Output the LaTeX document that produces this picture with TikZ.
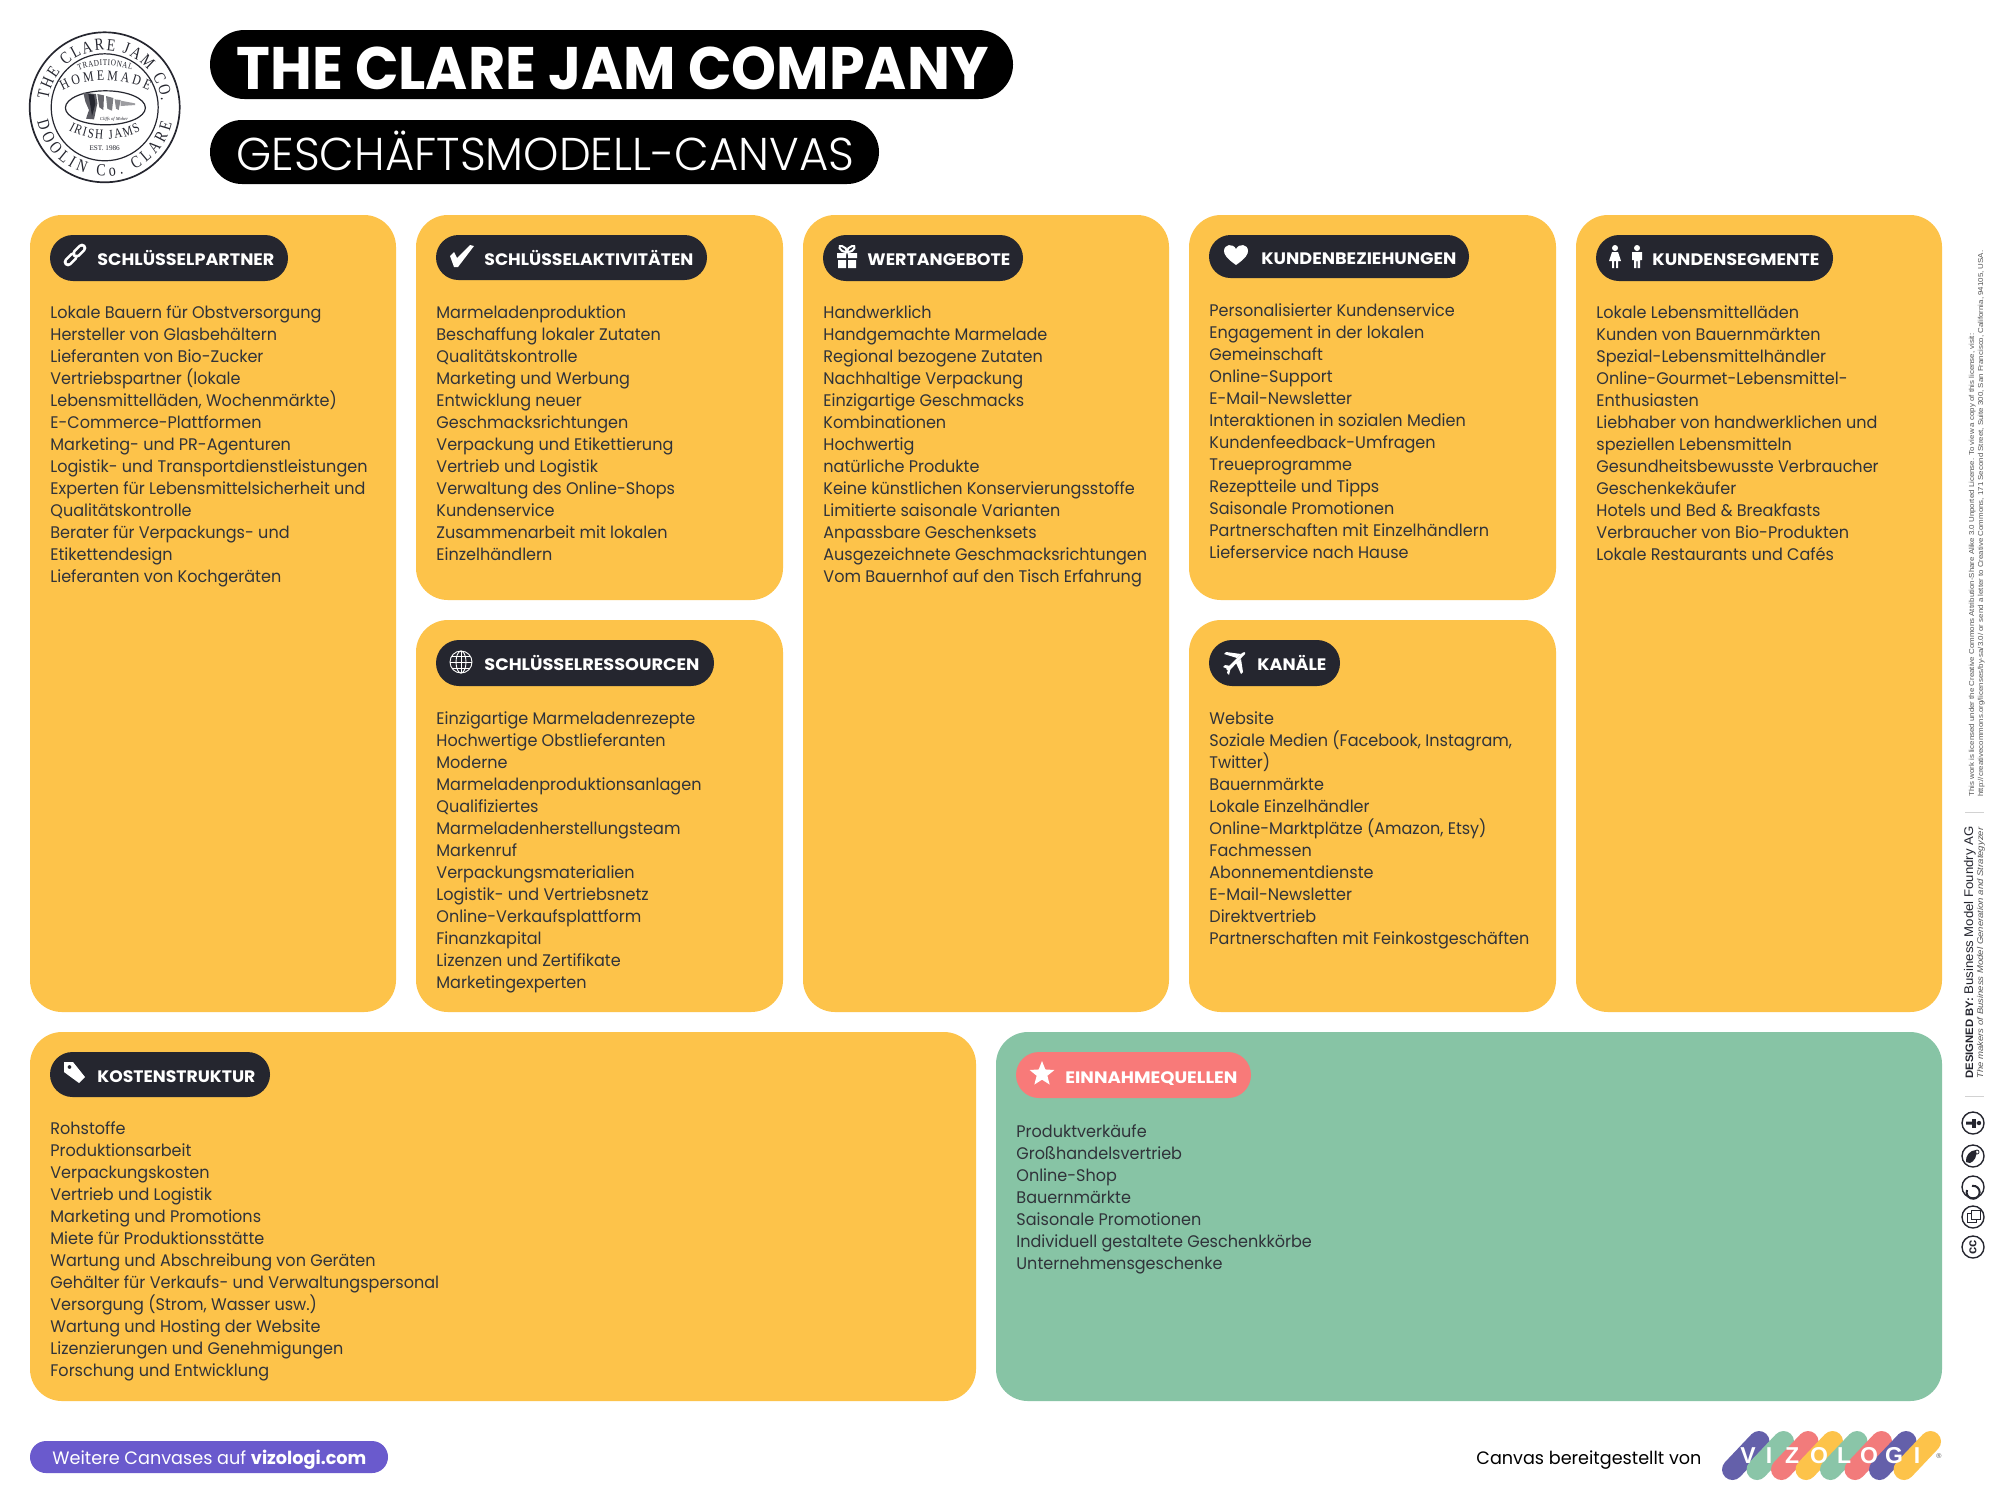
\documentclass[tikz,border=0pt]{standalone}
\usepackage{fontspec}
\usepackage{graphicx}
\usetikzlibrary{decorations.text,shapes.geometric}
\setmainfont{Poppins}
\newfontfamily\bodyf[FakeStretch=0.955]{Poppins}
\newfontfamily\lightf{Poppins Light}
\newfontfamily\sidef{Liberation Sans}
\newfontfamily\serf{Liberation Serif}
\newfontfamily\logof[FakeStretch=0.82]{Liberation Serif}
\definecolor{cardy}{HTML}{FDC34A}
\definecolor{cardg}{HTML}{87C4A5}
\definecolor{pilld}{HTML}{25262F}
\definecolor{pillc}{HTML}{F87A79}
\definecolor{txt}{HTML}{30333A}
\definecolor{purp}{HTML}{6A5ACD}
\definecolor{vpurp}{HTML}{6460AA}
\definecolor{vgreen}{HTML}{8AC5A8}
\definecolor{vcoral}{HTML}{F27B7B}
\definecolor{vyel}{HTML}{FDC34A}
\definecolor{sideg}{HTML}{555555}
\newcommand\fitto[2]{\resizebox{#1\dimexpr .5pt\relax}{\height}{#2}}
\tikzset{
  body/.style={anchor=north west,inner sep=0pt,align=left,text=txt,font=\bodyf\fontsize{8.4}{11}\selectfont},
  lab/.style={anchor=base west,inner sep=0pt,text=white,font=\bfseries\fontsize{8.3}{10}\selectfont},
  sidetxt/.style={anchor=base west,inner sep=0pt,rotate=90,text=sideg},
  card/.style={rounded corners=16pt},
  ccring/.style={draw=pilld,line width=.7pt,fill=white},
  white thin/.style={draw=white,line width=.45pt}
}
\newcommand\fr{\rule{0pt}{8pt}}
\newcommand\pillbox[5]{\pgfmathsetmacro\prad{(#4-#2)*0.25}\fill[#5,rounded corners=\prad pt] (#1,#2) rectangle (#3,#4);}
\begin{document}
\begin{tikzpicture}[x=.5pt,y=-.5pt]
\useasboundingbox (0,0) rectangle (2000,1511);
\fill[white] (0,0) rectangle (2000,1511);
% logo
\begin{scope}[shift={(104.7,107.3)},x=.5pt,y=.5pt]
\draw[pilld,line width=.85pt] (0,0) circle[radius=75];
\draw[pilld,line width=.6pt] (0,0) circle[radius=53.5];
\draw[pilld,line width=.6pt] (0.7,-0.5) ellipse[x radius=40,y radius=17];
\path[decorate,decoration={text along path,text align={fit to path},text={|\logof\fontsize{8.5}{9}\selectfont\color{pilld}|THE CLARE JAM CO.}}] (172:57) arc[start angle=172,end angle=6,radius=57];
\path[decorate,decoration={text along path,text align={fit to path},text={|\logof\fontsize{8.5}{9}\selectfont\color{pilld}|DOOLIN Co. CLARE}}] (192:69) arc[start angle=192,end angle=347,radius=69];
\path[decorate,decoration={text along path,text align={fit to path},text={|\logof\fontsize{4.4}{5}\selectfont\color{pilld}|TRADITIONAL}}] (-26,37) .. controls (-10,43) and (10,43) .. (27,37);
\path[decorate,decoration={text along path,text align={fit to path},text={|\logof\fontsize{7.2}{8}\selectfont\color{pilld}|HOMEMADE}}] (-42,17) .. controls (-20,30) and (20,30) .. (44,17);
\path[decorate,decoration={text along path,text align={fit to path},text={|\logof\fontsize{6.8}{7}\selectfont\color{pilld}|IRISH JAMS}}] (-36,-23) .. controls (-15,-35) and (15,-35) .. (36,-23);
\node (est) [inner sep=0pt,text=pilld,font=\serf\fontsize{3.6}{4}\selectfont] at (0,-41) {EST. 1986};
\end{scope}
\begin{scope}[shift={(20,20)},x=.1667pt,y=-.1667pt]
\fill[pilld!75] (190,218) -- (228,222) -- (232,250) -- (222,298) -- (198,296) -- (207,270) -- (196,245) -- cycle;
\fill[pilld] (205,222) -- (222,224) -- (226,252) -- (216,288) -- (212,262) -- cycle;
\fill[pilld!70] (232,222) -- (252,226) -- (250,270) -- (238,262) -- cycle;
\fill[pilld!60] (258,228) -- (280,234) -- (276,272) -- (262,266) -- cycle;
\fill[pilld!55] (284,238) -- (302,240) -- (296,270) -- (288,266) -- cycle;
\fill[pilld!45] (302,242) -- (345,250) -- (345,255) -- (302,258) -- cycle;
\end{scope}
\node (moher) [inner sep=0pt,text=pilld,font=\serf\itshape\fontsize{2.3}{3}\selectfont] at (114,119) {Cliffs of Moher};
% header pills
\pillbox{210}{30}{1013}{99}{black}
\pillbox{210}{120}{879}{184}{black}
\node (title) [anchor=base west,inner sep=0pt,text=white,font=\bfseries\fontsize{30}{32}\selectfont] at (236,89) {\fitto{752}{THE CLARE JAM COMPANY}};
\node (subtitle) [anchor=base west,inner sep=0pt,text=white,font=\lightf\fontsize{23}{26}\selectfont] at (236,170) {\fitto{618}{GESCHÄFTSMODELL-CANVAS}};
% cards
\fill[cardy,card] (30,215) rectangle (396,1012);
\fill[cardy,card] (416,215) rectangle (783,600);
\fill[cardy,card] (416,620) rectangle (783,1012);
\fill[cardy,card] (803,215) rectangle (1169,1012);
\fill[cardy,card] (1189,215) rectangle (1556,600);
\fill[cardy,card] (1189,620) rectangle (1556,1012);
\fill[cardy,card] (1576,215) rectangle (1942,1012);
\fill[cardy,card] (30,1032) rectangle (976,1401);
\fill[cardg,card] (996,1032) rectangle (1942,1401);
% pills
\pillbox{50}{235}{288}{281}{pilld}
\pillbox{436}{235}{707}{280}{pilld}
\pillbox{823}{235}{1023}{281}{pilld}
\pillbox{1209}{235}{1469}{278}{pilld}
\pillbox{1596}{235}{1833}{281}{pilld}
\pillbox{436}{640}{714}{686}{pilld}
\pillbox{1209}{640}{1340}{686}{pilld}
\pillbox{50}{1052}{270}{1097}{pilld}
\pillbox{1016}{1052}{1251}{1098}{pillc}
\node (lsp) [lab] at (97,265) {\fitto{177}{SCHLÜSSELPARTNER}};
\node (lsa) [lab] at (484,265) {\fitto{209}{SCHLÜSSELAKTIVITÄTEN}};
\node (lwa) [lab] at (867,265) {\fitto{143}{WERTANGEBOTE}};
\node (lkb) [lab] at (1261,264) {\fitto{195}{KUNDENBEZIEHUNGEN}};
\node (lks) [lab] at (1652,265) {\fitto{167}{KUNDENSEGMENTE}};
\node (lsr) [lab] at (484,670) {\fitto{215}{SCHLÜSSELRESSOURCEN}};
\node (lka) [lab] at (1257,670) {\fitto{69}{KANÄLE}};
\node (lko) [lab] at (97,1082) {\fitto{158}{KOSTENSTRUKTUR}};
\node (lei) [lab] at (1065,1083) {\fitto{172}{EINNAHMEQUELLEN}};
% icons
\draw[white,line width=4.4pt,line cap=round] (68,262) -- (73.5,256.5);
\draw[pilld,line width=1.6pt,line cap=round] (68,262) -- (73.5,256.5);
\draw[white,line width=4.4pt,line cap=round] (76.5,253.5) -- (82,248);
\draw[pilld,line width=1.6pt,line cap=round] (76.5,253.5) -- (82,248);
\fill[white] (450,256) -- (454,252) -- (457,258) -- (470,245) -- (474,246) -- (458,267) -- (454,267) -- cycle;
\fill[white] (837,253) rectangle (846,258) (848,253) rectangle (857,258) (838,260) rectangle (846,268) (848,260) rectangle (856,268);
\draw[white,line width=1pt] (847,252) .. controls (838,252) and (838,244) .. (842,246) .. controls (845,247) and (847,249) .. (847,252) .. controls (847,249) and (849,247) .. (852,246) .. controls (856,244) and (856,252) .. (847,252);
\fill[white] (1236,265) .. controls (1226,258) and (1224,254) .. (1224,251) .. controls (1224,244) and (1233,243) .. (1236,249) .. controls (1239,243) and (1248,244) .. (1248,251) .. controls (1248,254) and (1246,258) .. (1236,265) -- cycle;
\fill[white] (1615,248) circle[radius=3];
\fill[white] (1612,252) -- (1618,252) -- (1621,261) -- (1618,261) -- (1618,268) -- (1616,268) -- (1616,261) -- (1614,261) -- (1614,268) -- (1612,268) -- (1612,261) -- (1609,261) -- cycle;
\fill[white] (1637,248) circle[radius=3];
\fill[white] (1632,252) -- (1642,252) -- (1642,260) -- (1640,260) -- (1640,268) -- (1637.6,268) -- (1637.6,261) -- (1636.4,261) -- (1636.4,268) -- (1634,268) -- (1634,260) -- (1632,260) -- cycle;
\draw[white thin] (461,662) circle[radius=11];
\draw[white thin] (461,662) ellipse[x radius=5,y radius=11];
\draw[white thin] (461,651) -- (461,673) (450,662) -- (472,662) (452,656) -- (470,656) (452,668) -- (470,668);
\fill[white] (1226,669) -- (1241,654) .. controls (1243,652) and (1246,651) .. (1245,654) -- (1229,671) -- cycle;
\fill[white] (1237,658) -- (1224,654) -- (1226,652) -- (1241,654) -- cycle;
\fill[white] (1236,663) -- (1241,674) -- (1243,672) -- (1241,659) -- cycle;
\fill[white] (1228,669) -- (1223,667) -- (1225,665) -- (1231,666) -- (1230,671) -- (1229,675) -- (1227,673) -- cycle;
\fill[white,even odd rule] (64,1062) -- (73,1062) -- (85,1077) -- (79,1083) -- (64,1072) -- cycle (69.5,1067) circle[radius=2];
\node (staricon) [star,star points=5,star point ratio=2.3,fill=white,inner sep=0pt,minimum size=26pt*.5] at (1042,1074) {};
% body texts
\node (b1) [body] at (50,302) {\fr Lokale Bauern für Obstversorgung\\Hersteller von Glasbehältern\\Lieferanten von Bio-Zucker\\Vertriebspartner (lokale\\Lebensmittelläden, Wochenmärkte)\\E-Commerce-Plattformen\\Marketing- und PR-Agenturen\\Logistik- und Transportdienstleistungen\\Experten für Lebensmittelsicherheit und\\Qualitätskontrolle\\Berater für Verpackungs- und\\Etikettendesign\\Lieferanten von Kochgeräten};
\node (b2) [body] at (436,302) {\fr Marmeladenproduktion\\Beschaffung lokaler Zutaten\\Qualitätskontrolle\\Marketing und Werbung\\Entwicklung neuer\\Geschmacksrichtungen\\Verpackung und Etikettierung\\Vertrieb und Logistik\\Verwaltung des Online-Shops\\Kundenservice\\Zusammenarbeit mit lokalen\\Einzelhändlern};
\node (b3) [body] at (436,708) {\fr Einzigartige Marmeladenrezepte\\Hochwertige Obstlieferanten\\Moderne\\Marmeladenproduktionsanlagen\\Qualifiziertes\\Marmeladenherstellungsteam\\Markenruf\\Verpackungsmaterialien\\Logistik- und Vertriebsnetz\\Online-Verkaufsplattform\\Finanzkapital\\Lizenzen und Zertifikate\\Marketingexperten};
\node (b4) [body] at (823,302) {\fr Handwerklich\\Handgemachte Marmelade\\Regional bezogene Zutaten\\Nachhaltige Verpackung\\Einzigartige Geschmacks\\Kombinationen\\Hochwertig\\natürliche Produkte\\Keine künstlichen Konservierungsstoffe\\Limitierte saisonale Varianten\\Anpassbare Geschenksets\\Ausgezeichnete Geschmacksrichtungen\\Vom Bauernhof auf den Tisch Erfahrung};
\node (b5) [body] at (1209,300) {\fr Personalisierter Kundenservice\\Engagement in der lokalen\\Gemeinschaft\\Online-Support\\E-Mail-Newsletter\\Interaktionen in sozialen Medien\\Kundenfeedback-Umfragen\\Treueprogramme\\Rezeptteile und Tipps\\Saisonale Promotionen\\Partnerschaften mit Einzelhändlern\\Lieferservice nach Hause};
\node (b6) [body] at (1209,708) {\fr Website\\Soziale Medien (Facebook, Instagram,\\Twitter)\\Bauernmärkte\\Lokale Einzelhändler\\Online-Marktplätze (Amazon, Etsy)\\Fachmessen\\Abonnementdienste\\E-Mail-Newsletter\\Direktvertrieb\\Partnerschaften mit Feinkostgeschäften};
\node (b7) [body] at (1596,302) {\fr Lokale Lebensmittelläden\\Kunden von Bauernmärkten\\Spezial-Lebensmittelhändler\\Online-Gourmet-Lebensmittel-\\Enthusiasten\\Liebhaber von handwerklichen und\\speziellen Lebensmitteln\\Gesundheitsbewusste Verbraucher\\Geschenkekäufer\\Hotels und Bed \& Breakfasts\\Verbraucher von Bio-Produkten\\Lokale Restaurants und Cafés};
\node (b8) [body] at (50,1118.4) {\fr Rohstoffe\\Produktionsarbeit\\Verpackungskosten\\Vertrieb und Logistik\\Marketing und Promotions\\Miete für Produktionsstätte\\Wartung und Abschreibung von Geräten\\Gehälter für Verkaufs- und Verwaltungspersonal\\Versorgung (Strom, Wasser usw.)\\Wartung und Hosting der Website\\Lizenzierungen und Genehmigungen\\Forschung und Entwicklung};
\node (b9) [body] at (1016,1120.8) {\fr Produktverkäufe\\Großhandelsvertrieb\\Online-Shop\\Bauernmärkte\\Saisonale Promotionen\\Individuell gestaltete Geschenkkörbe\\Unternehmensgeschenke};
% footer
\pillbox{30}{1441}{388}{1473}{purp}
\node (more) [anchor=base west,inner sep=0pt,text=white,font=\fontsize{9}{11}\selectfont] at (52,1464) {\fitto{314}{Weitere Canvases auf \textbf{vizologi.com}}};
\node (prov) [anchor=base west,inner sep=0pt,text=black,font=\fontsize{9}{11}\selectfont] at (1476,1464) {\fitto{225}{Canvas bereitgestellt von}};
% vizologi logo
\foreach \i/\c in {0/vpurp,1/vgreen,2/vcoral,3/vyel,4/vgreen,5/vcoral,6/vpurp,7/vyel}{
  \draw[\c,line width=10.5pt,line cap=round] ({1732.5+24.5*\i},1469.5) -- ({1759+24.5*\i},1441.5);
}
\foreach \n/\l/\x in {v1/V/1748,v2/I/1769,v3/Z/1792,v4/O/1819,v5/L/1844,v6/O/1869,v7/G/1894,v8/I/1917}{
  \node (\n) [inner sep=0pt,text=white,font=\sidef\bfseries\fontsize{11.5}{12}\selectfont] at (\x,1456) {\l};
}
\node (regm) [inner sep=0pt,text=sideg,font=\sidef\fontsize{3.5}{4}\selectfont] at (1939,1456) {®};
% side texts
\node (lic1) [sidetxt,font=\sidef\fontsize{3.6}{4}\selectfont] at (1974,797) {\fitto{463}{This work is licensed under the Creative Commons Attribution-Share Alike 3.0 Unported License. To view a copy of this license, visit:}};
\node (lic2) [sidetxt,font=\sidef\fontsize{3.6}{4}\selectfont] at (1983,797) {\fitto{546}{http://creativecommons.org/licenses/by-sa/3.0/ or send a letter to Creative Commons, 171 Second Street, Suite 300, San Francisco, California, 94105, USA.}};
\draw[gray!35,line width=.4pt] (1965,812) -- (1984,812) (1965,1096) -- (1984,1096);
\node (des) [sidetxt,text=pilld,font=\sidef\fontsize{6.3}{7}\selectfont] at (1973,1079) {\fitto{252}{{\bfseries\fontsize{5.4}{6}\selectfont DESIGNED BY:} Business Model Foundry AG}};
\node (mak) [sidetxt,font=\sidef\itshape\fontsize{4.2}{5}\selectfont] at (1983,1079) {\fitto{251}{The makers of Business Model Generation and Strategyzer}};
% cc icons
\draw[ccring] (1973,1123) circle[radius=11];
\fill[pilld] (1966,1121.5) rectangle (1976,1124.5) (1979,1123) circle[radius=2.2];
\fill[pilld] (1972,1118.5) rectangle (1976,1127.5);
\draw[ccring] (1973,1156) circle[radius=11];
\fill[pilld] (1966,1162) .. controls (1965,1156) and (1970,1150) .. (1976,1150) .. controls (1978,1155) and (1974,1162) .. (1970,1163) -- cycle;
\draw[pilld,line width=.4pt] (1977,1152) circle[radius=2];
\draw[ccring] (1973,1187) circle[radius=11];
\draw[pilld,line width=1pt] (1967,1190) arc[start angle=200,end angle=-100,radius=6.5];
\draw[ccring] (1973,1217) circle[radius=11];
\draw[pilld,line width=.5pt,fill=white] (1967,1213) rectangle (1976,1222);
\draw[pilld,line width=.5pt,fill=white] (1971,1210) rectangle (1980,1219);
\draw[ccring] (1973,1247) circle[radius=11];
\node (cc) [inner sep=0pt,rotate=90,text=pilld,font=\sidef\bfseries\fontsize{6.5}{7}\selectfont] at (1973,1247) {cc};
\end{tikzpicture}
\end{document}
